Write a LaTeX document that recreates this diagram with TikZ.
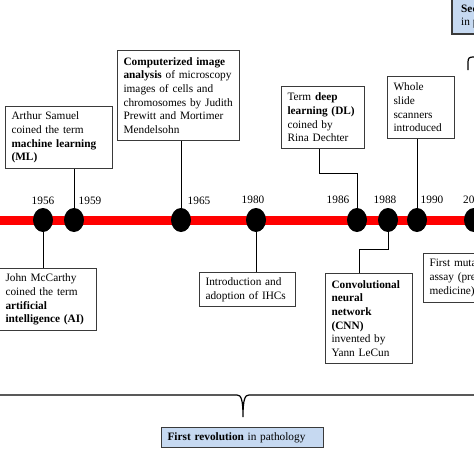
\documentclass[tikz,border=0pt]{standalone}
\usepackage{fontspec}
\setmainfont{Liberation Serif}
\usetikzlibrary{shapes.geometric}
\definecolor{boxline}{HTML}{3A3A3A}
\definecolor{lightblue}{HTML}{C6D9F1}
\definecolor{tlred}{HTML}{FF0000}
\begin{document}
\begin{tikzpicture}[x=1pt,y=-1pt,
  txt/.style={font=\fontsize{11.3}{13.7}\selectfont},
  evbox/.style={draw=boxline, line width=1.1pt, fill=white, anchor=north west,
    align=left, inner xsep=6pt, inner ysep=0pt, txt},
  bluebox/.style={evbox, fill=lightblue},
  dot/.style={ellipse, fill=black, minimum width=20pt, minimum height=24pt, inner sep=0pt},
  yr/.style={txt, inner sep=0pt},
  conn/.style={draw=black, line width=1pt},
  brace/.style={draw=black, line width=1.2pt}
]
\useasboundingbox (0,0) rectangle (474,474);
\clip (0,0) rectangle (474,474);
\fill[white] (0,0) rectangle (474,474);

% timeline
\draw[tlred, line width=9pt] (-5,220) -- (480,220);

% dots
\node[dot] (d1956) at (43,220) {};
\node[dot] (d1959) at (74,220) {};
\node[dot] (d1965) at (181,220) {};
\node[dot] (d1980) at (256,220) {};
\node[dot] (d1986) at (357,220) {};
\node[dot] (d1988) at (388,220) {};
\node[dot] (d1990) at (417,220) {};
\node[dot] (d20) at (474,220) {};

% year labels
\node[yr] (y1956) at (43,201) {1956};
\node[yr] (y1959) at (90,201) {1959};
\node[yr] (y1965) at (199,201) {1965};
\node[yr] (y1980) at (253,200) {1980};
\node[yr] (y1986) at (338,200) {1986};
\node[yr] (y1988) at (385,200) {1988};
\node[yr] (y1990) at (432,200) {1990};
\node[yr, anchor=west] (y20) at (463,200) {20};

% upper boxes
\node[evbox, text width=95pt, minimum height=62pt] (arthur) at (5,106)
  {Arthur Samuel\\coined the term\\\textbf{machine learning}\\\textbf{(ML)}};
\node[evbox, text width=110pt, minimum height=90pt] (comp) at (117,50)
  {\textbf{Computerized image}\\\textbf{analysis} of microscopy\\images of cells and\\chromosomes by Judith\\Prewitt and Mortimer\\Mendelsohn};
\node[evbox, text width=71pt, minimum height=62pt] (dl) at (281,86)
  {Term \textbf{deep}\\\textbf{learning (DL)}\\coined by\\Rina Dechter};
\node[evbox, text width=55pt, minimum height=62pt] (ws) at (387,76)
  {Whole\\slide\\scanners\\introduced};

% second revolution box (partly outside)
\draw[boxline, line width=1.1pt, fill=lightblue] (452,-10) rectangle (540,34);
\node[txt, anchor=north west, align=left, inner sep=0pt] (sec) at (461,4)
  {\textbf{Second revolution}\\in pathology};

% lower boxes
\node[evbox, text width=85pt, minimum height=62pt] (john) at (-1,268)
  {John McCarthy\\coined the term\\\textbf{artificial}\\\textbf{intelligence (AI)}};
\node[evbox, text width=84pt, minimum height=34pt] (intro) at (199,272)
  {Introduction and\\adoption of IHCs};
\node[evbox, text width=75pt, minimum height=90pt] (cnn) at (325,273)
  {\textbf{Convolutional}\\\textbf{neural}\\\textbf{network}\\\textbf{(CNN)}\\invented by\\Yann LeCun};
\node[evbox, text width=95pt, minimum height=49pt] (mut) at (423,253)
  {First mutation\\assay (precision\\medicine)};
\node[bluebox, text width=150pt, minimum height=20pt] (frev) at (161,427)
  {\textbf{First revolution} in pathology};

% connectors
\draw[conn] (d1959.north) -- (d1959.north |- arthur.south);
\draw[conn] (d1965.north) -- (d1965.north |- comp.south);
\draw[conn] ([xshift=-3.5pt]dl.south) -- ++(0,24) -| (d1986.north);
\draw[conn] (d1990.north) -- (d1990.north |- ws.south);
\draw[conn] (d1956.south) -- (d1956.south |- john.north);
\draw[conn] (d1980.south) -- (d1980.south |- intro.north);
\coordinate (cnnk) at (359,249);
\draw[conn] (d1988.south) |- (cnnk) -- (cnnk |- cnn.north);

% braces
\coordinate (btip) at (243,417);
\draw[brace] (-5,395) -- (237,395) .. controls (241,395) and (243,399) .. (btip)
  .. controls (243,399) and (245,395) .. (249,395) -- (480,395);
\coordinate (ttip) at (468,70);
\draw[brace] (ttip) -- (468,62) .. controls (468,58) and (469.5,57) .. (473,57) -- (480,57);
\end{tikzpicture}
\end{document}
